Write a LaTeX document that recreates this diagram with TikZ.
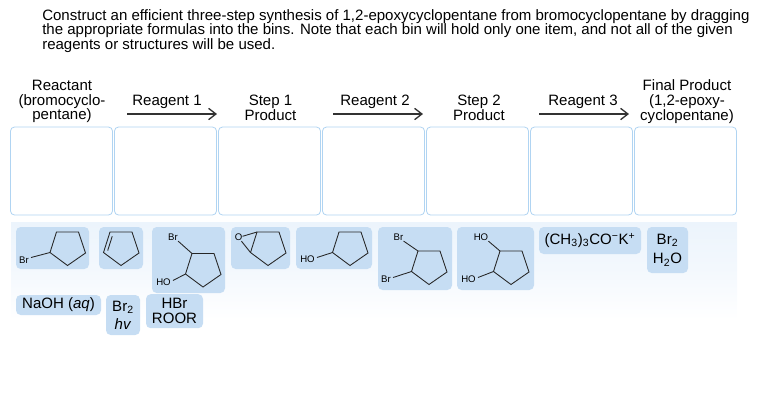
\documentclass[tikz,border=0pt]{standalone}
\usepackage{fontspec}
\setmainfont{Liberation Sans}
\usetikzlibrary{arrows.meta,calc}
\definecolor{binedge}{RGB}{176,212,242}
\definecolor{tilefill}{RGB}{198,221,243}
\definecolor{trayfill}{RGB}{236,244,252}
\definecolor{arrowgrey}{RGB}{50,50,50}
\newcommand{\mainsize}{\fontsize{11.27}{11.1}\selectfont}
\newcommand{\atomsize}{\fontsize{7.2}{7.5}\selectfont}
\tikzset{
    label/.style={font=\mainsize, align=center, inner sep=0pt},
    atom/.style={font=\atomsize, inner sep=0pt},
    bin/.style={draw=binedge, line width=0.6pt, fill=white, rounded corners=3pt, minimum width=76.5pt, minimum height=66pt, inner sep=0pt},
    tile/.style={fill=tilefill, rounded corners=3.5pt, inner sep=0pt, font=\mainsize, align=center},
    bond/.style={line width=0.65pt, black!85},
    reaction/.style={-{Straight Barb[length=5.5pt,width=8.5pt]}, line width=1pt, arrowgrey}
}
% five ring corners: a, b top, c right, d bottom, e left
\newcommand{\ring}[3]{
    \draw [bond] (#2-11,#3-16) coordinate (#1a) -- (#2+11,#3-16) coordinate (#1b)
        -- (#2+18,#3+5) coordinate (#1c) -- (#2,#3+17.5) coordinate (#1d)
        -- (#2-17.5,#3+4.5) coordinate (#1e) -- cycle;
}
\begin{document}
\begin{tikzpicture}[x=0.75pt, y=-0.75pt]
    \useasboundingbox (0, 0) rectangle (778, 401);

    \node [label, align=left, anchor=north west] (intro) at (42, 9) {Construct an efficient three-step synthesis of 1,2-epoxycyclopentane from bromocyclopentane by dragging\\the appropriate formulas into the bins. Note that each bin will hold only one item, and not all of the given\\reagents or structures will be used.};

    % headings
    \node [label] (reactant) at (62, 101.5) {Reactant\\(bromocyclo-\\pentane)};
    \node [label] (reagent1) at (167, 101.5) {Reagent 1};
    \node [label] (step1) at (270.5, 108) {Step 1\\Product};
    \node [label] (reagent2) at (375, 101.5) {Reagent 2};
    \node [label] (step2) at (479, 108) {Step 2\\Product};
    \node [label] (reagent3) at (583, 101.5) {Reagent 3};
    \node [label] (final) at (687, 101.5) {Final Product\\(1,2-epoxy-\\cyclopentane)};

    \coordinate (a1) at (127, 114);
    \coordinate (a2) at (217, 114);
    \coordinate (b1) at (333, 114);
    \coordinate (b2) at (423, 114);
    \coordinate (c1) at (539, 114);
    \coordinate (c2) at (629, 114);
    \draw [reaction] (a1) -- (a2);
    \draw [reaction] (b1) -- (b2);
    \draw [reaction] (c1) -- (c2);

    % bins
    \foreach \i/\x in {1/61.5, 2/165.5, 3/269.5, 4/373.5, 5/477.5, 6/581.5, 7/685.5}
        \node [bin] (bin\i) at (\x, 171) {};

    % tray
    \fill [top color=trayfill, bottom color=white, middle color=trayfill!60] (11, 222) rectangle (737, 320);

    % tiles
    \node [tile, minimum width=54.75pt, minimum height=31.5pt] (brtile) at (52.5, 248) {};
    \node [tile, minimum width=33pt, minimum height=31.5pt] (enetile) at (121, 248) {};
    \node [tile, minimum width=54.75pt, minimum height=49.5pt] (brohtile) at (188.5, 260) {};
    \node [tile, minimum width=44.25pt, minimum height=31.5pt] (epoxytile) at (260.5, 248) {};
    \node [tile, minimum width=57pt, minimum height=31.5pt] (ohtile) at (334, 248) {};
    \node [tile, minimum width=55.5pt, minimum height=47.25pt] (dibrtile) at (415, 258.5) {};
    \node [tile, minimum width=57.75pt, minimum height=47.25pt] (diohtile) at (495.5, 258.5) {};
    \node [tile, minimum width=76.5pt, minimum height=20.25pt] (butoxide) at (590, 240.5) {(CH\textsubscript{3})\textsubscript{3}CO\textsuperscript{−}K\textsuperscript{+}};
    \node [tile, minimum width=30.75pt, minimum height=34.5pt] (brwater) at (667.5, 250) {Br\textsubscript{2}\\[3.5pt]H\textsubscript{2}O};
    \node [tile, minimum width=63.75pt, minimum height=15pt] (naoh) at (58.5, 305) {NaOH (\textit{aq})};
    \node [tile, minimum width=25.5pt, minimum height=30pt] (brlight) at (123, 315) {Br\textsubscript{2}\\[2.5pt]\textit{hv}};
    \node [tile, minimum width=42.75pt, minimum height=25.5pt, yshift=0.6pt] (hbr) at (174.5, 312) {HBr\\ROOR};

    % bromocyclopentane
    \ring{p}{67.5}{248}
    \node [atom] (pbr) at (24, 260) {Br};
    \draw [bond] (pbr.east) ++(2, -2.5) coordinate (pbrend) -- (pe);

    % cyclopentene
    \ring{q}{121}{248}
    \coordinate (qin1) at ($(qa)!0.15!(qe) + (3.2, 1.2)$);
    \coordinate (qin2) at ($(qa)!0.85!(qe) + (3.2, 1.2)$);
    \draw [bond] (qin1) -- (qin2);

    % bromohydrin
    \ring{r}{203}{269.5}
    \node [atom] (rbr) at (173, 237.5) {Br};
    \node [atom] (roh) at (163.5, 282.5) {HO};
    \draw [bond] (rbr.south east) -- (ra);
    \draw [bond] (roh.east) ++(2, -2) coordinate (rohend) -- (re);

    % epoxide
    \ring{s}{268}{248}
    \node [atom] (so) at (238.5, 237.5) {O};
    \draw [bond] (so) -- (sa);
    \draw [bond] (so) -- (se);

    % cyclopentanol
    \ring{t}{350}{248}
    \node [atom] (toh) at (307.5, 259.5) {HO};
    \draw [bond] (toh.east) ++(2, -2) coordinate (tohend) -- (te);

    % dibromide
    \ring{u}{429}{267}
    \node [atom] (ubr1) at (398.5, 237.5) {Br};
    \node [atom] (ubr2) at (386, 279.5) {Br};
    \draw [bond] (ubr1.south east) -- (ua);
    \draw [bond] (ubr2.east) ++(2, -2) coordinate (ubrend) -- (ue);

    % diol
    \ring{v}{511}{267}
    \node [atom] (voh1) at (481, 237.5) {HO};
    \node [atom] (voh2) at (468.5, 279.5) {HO};
    \draw [bond] (voh1.south east) -- (va);
    \draw [bond] (voh2.east) ++(2, -2) coordinate (vohend) -- (ve);
\end{tikzpicture}
\end{document}
